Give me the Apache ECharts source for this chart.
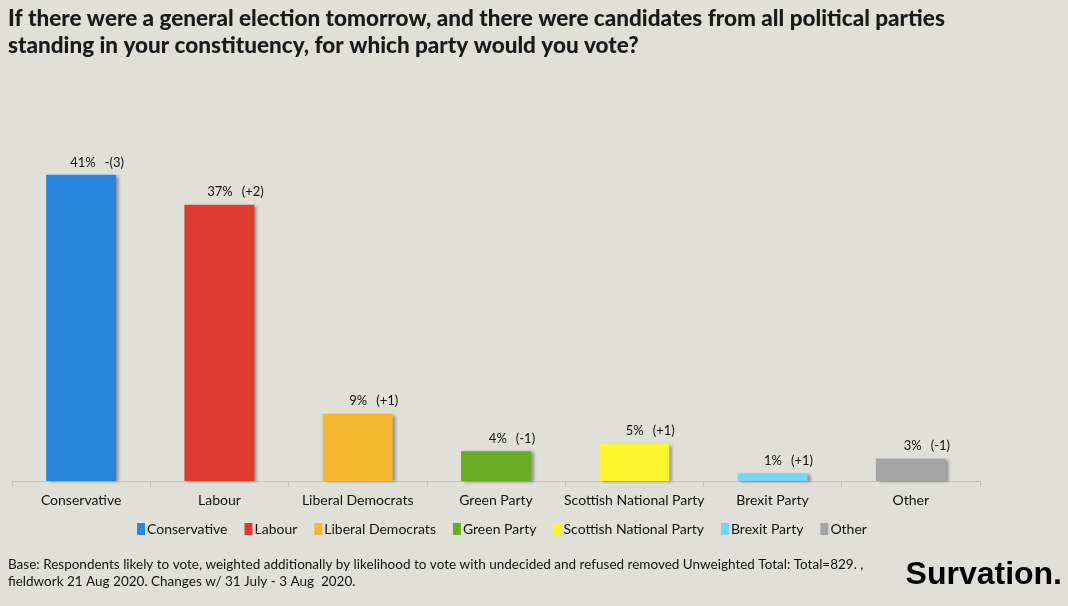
<!DOCTYPE html>
<html>
<head>
<meta charset="utf-8">
<script src="https://cdn.jsdelivr.net/npm/echarts@6/dist/echarts.min.js"></script>
<style>
  html, body { margin: 0; padding: 0; background: #e0e0d9; }
  #chart { width: 1068px; height: 606px; }
</style>
</head>
<body>
<div id="chart"></div>
<script>
// data
var parties = ['Conservative', 'Labour', 'Liberal Democrats', 'Green Party', 'Scottish National Party', 'Brexit Party', 'Other'];
var shares = [41, 37, 9, 4, 5, 1, 3];
var changes = ['-(3)', '(+2)', '(+1)', '(-1)', '(+1)', '(+1)', '(-1)'];
var colours = ['#2a86dd', '#e03b30', '#f6b731', '#69ae22', '#fcf52f', '#78d3f8', '#a5a5a5'];

var font = 'Lato, "Open Sans", sans-serif';

// one series per party so the legend lists them; stacked so each bar sits centred
var series = [];
for (var i = 0; i < parties.length; i++) {
  (function (k) {
    var d = [];
    for (var j = 0; j < parties.length; j++) {
      d.push(j === k ? shares[k] : '-');
    }
    series.push({
      name: parties[k],
      type: 'bar',
      stack: 'all',
      barWidth: 70,
      data: d,
      itemStyle: {
        color: colours[k],
        shadowColor: 'rgba(0,0,0,0.35)',
        shadowBlur: 3,
        shadowOffsetX: 3,
        shadowOffsetY: 1
      },
      label: {
        show: true,
        position: 'top',
        distance: 6,
        offset: [16, 0],
        formatter: function (p) {
          return '{v|' + p.value + '%}{c|' + changes[k] + '}';
        },
        rich: {
          v: { fontFamily: font, fontSize: 13, color: '#111' },
          c: { fontFamily: font, fontSize: 13, color: '#111', padding: [0, 0, 0, 9] }
        }
      }
    });
  })(i);
}

var chart = echarts.init(document.getElementById('chart'));
chart.setOption({
  backgroundColor: '#e0e0d9',
  animation: false,
  grid: { left: 12, right: 88, top: 145, bottom: 125, containLabel: false },
  legend: {
    data: parties,
    top: 517,
    left: 132,
    icon: 'rect',
    itemWidth: 8,
    itemHeight: 12,
    itemGap: 17,
    textStyle: { fontFamily: font, fontSize: 14, color: '#111', padding: [0, 0, 0, -3] }
  },
  xAxis: {
    type: 'category',
    data: parties,
    axisLine: { lineStyle: { color: '#c6c6c0', width: 1 } },
    axisTick: { show: true, length: 6, lineStyle: { color: '#c6c6c0' } },
    axisLabel: { interval: 0, fontFamily: font, fontSize: 14, color: '#111', margin: 12 }
  },
  yAxis: {
    type: 'value',
    min: 0,
    max: 45,
    show: false,
    splitLine: { show: false }
  },
  series: series,
  graphic: [
    {
      type: 'text', left: 8, top: 5,
      style: {
        text: 'If there were a general election tomorrow, and there were candidates from all political parties\nstanding in your constituency, for which party would you vote?',
        font: '900 22.5px Lato, "Open Sans", sans-serif',
        fill: '#1a1a1a',
        lineHeight: 27
      }
    },
    {
      type: 'text', left: 8, top: 556,
      style: {
        text: 'Base: Respondents likely to vote, weighted additionally by likelihood to vote with undecided and refused removed Unweighted Total: Total=829. ,\nfieldwork 21 Aug 2020. Changes w/ 31 July - 3 Aug  2020.',
        font: '13.5px Lato, "Open Sans", sans-serif',
        fill: '#111',
        lineHeight: 17
      }
    },
    {
      type: 'text', right: 6, top: 559,
      style: {
        text: 'Survation.',
        font: 'bold 32px "Liberation Sans Narrow", "Liberation Sans", Arial, sans-serif',
        fill: '#000'
      }
    }
  ]
});
</script>
</body>
</html>
